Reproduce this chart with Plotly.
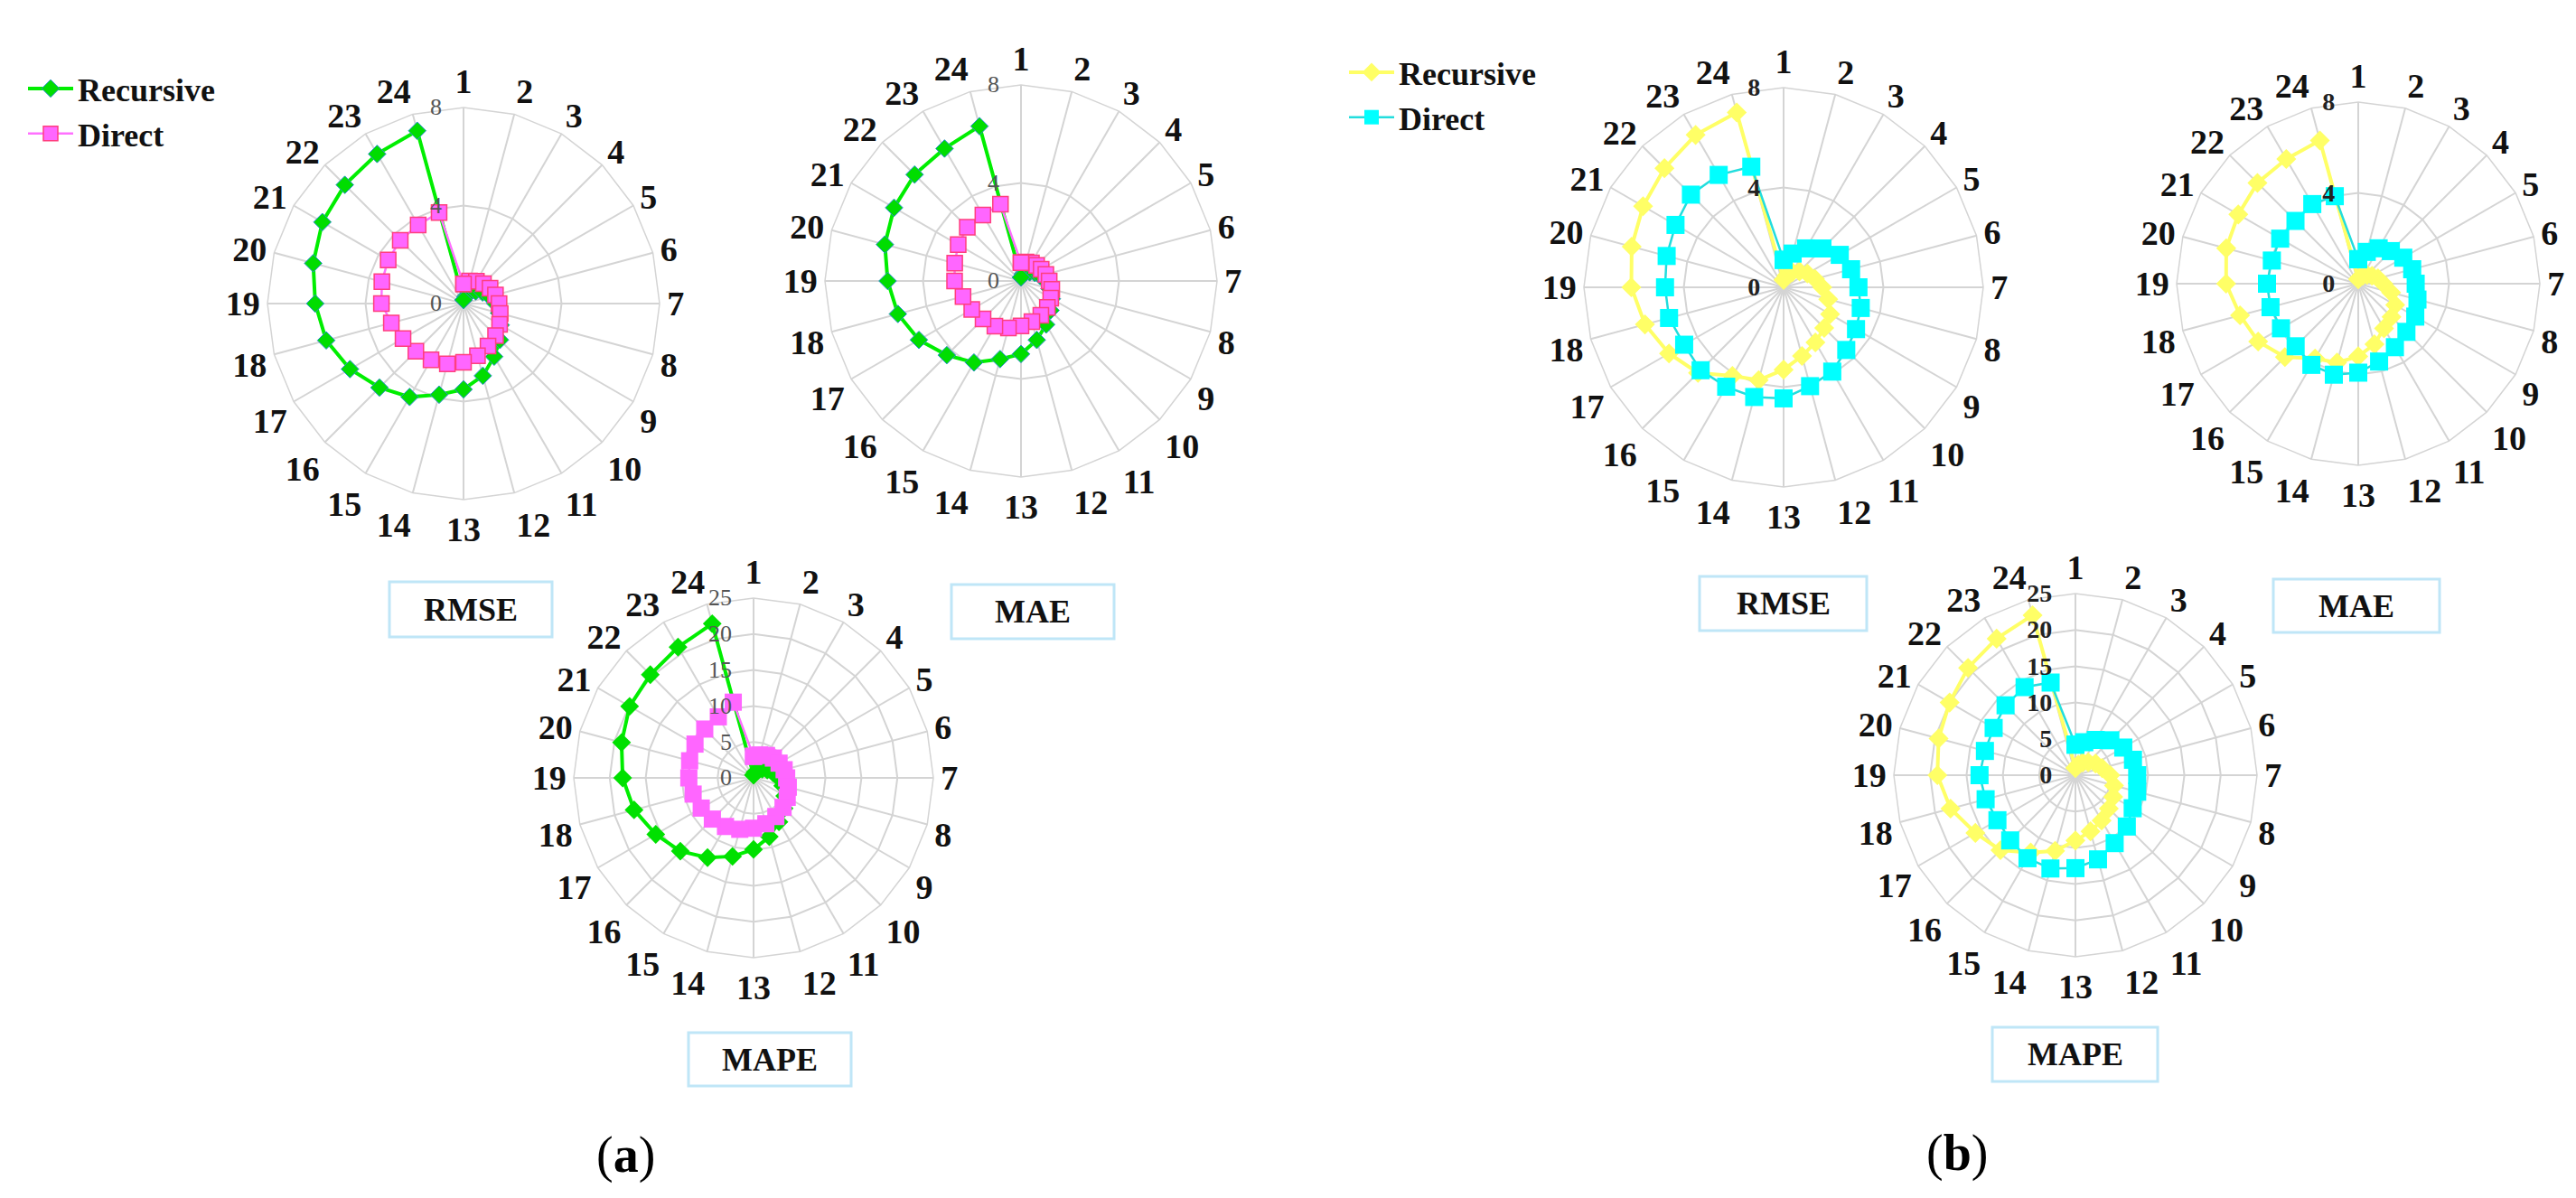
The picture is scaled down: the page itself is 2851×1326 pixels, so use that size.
import plotly.graph_objects as go

W, H = 2851, 1326

horizons = ['1', '2', '3', '4', '5', '6', '7', '8', '9', '10', '11', '12',
            '13', '14', '15', '16', '17', '18', '19', '20', '21', '22', '23', '24']

# (a) error metrics per forecast horizon
a_rmse_rec = [0.15, 0.3, 0.5, 0.7, 0.9, 1.1, 1.3, 1.5, 1.75, 2.1, 2.5, 3.05,
              3.5, 3.85, 4.4, 4.85, 5.35, 5.8, 6.05, 6.35, 6.65, 6.85, 7.05, 7.3]
a_rmse_dir = [0.8, 0.95, 1.05, 1.15, 1.25, 1.35, 1.45, 1.55, 1.7, 1.85, 2.0, 2.2,
              2.4, 2.55, 2.65, 2.75, 2.85, 3.05, 3.35, 3.45, 3.55, 3.65, 3.7, 3.85]
a_mae_rec = [0.15, 0.3, 0.4, 0.5, 0.65, 0.8, 1.0, 1.2, 1.45, 1.7, 2.05, 2.49,
             2.98, 3.3, 3.84, 4.28, 4.81, 5.2, 5.44, 5.75, 5.98, 6.14, 6.24, 6.54]
a_mae_dir = [0.75, 0.8, 0.85, 0.9, 0.95, 1.05, 1.15, 1.3, 1.4, 1.52, 1.62, 1.72,
             1.83, 1.98, 2.13, 2.19, 2.32, 2.45, 2.71, 2.8, 2.96, 3.1, 3.11, 3.24]
a_mape_rec = [0.4, 0.8, 1.2, 1.7, 2.2, 2.8, 3.5, 4.2, 5.0, 6.0, 7.06, 8.46,
              9.95, 11.3, 12.8, 14.4, 15.7, 17.2, 18.2, 19.0, 19.9, 20.3, 21.0, 22.2]
a_mape_dir = [3.0, 3.3, 3.6, 3.9, 4.1, 4.4, 4.6, 5.0, 5.4, 5.8, 6.2, 6.6,
              7.0, 7.4, 7.8, 8.1, 8.4, 8.7, 9.0, 9.2, 9.4, 9.6, 9.8, 10.9]

# (b) error metrics per forecast horizon
b_rmse_rec = [0.3, 0.5, 0.7, 0.9, 1.1, 1.3, 1.55, 1.85, 2.15, 2.3, 2.55, 2.85,
              3.3, 3.85, 4.1, 4.85, 5.3, 5.75, 6.1, 6.3, 6.5, 6.75, 7.05, 7.25]
b_rmse_dir = [1.1, 1.4, 1.8, 2.2, 2.6, 2.8, 3.0, 3.2, 3.35, 3.55, 3.9, 4.1,
              4.45, 4.55, 4.6, 4.7, 4.6, 4.75, 4.75, 4.85, 5.0, 5.25, 5.2, 5.0]
b_mae_rec = [0.2, 0.3, 0.4, 0.55, 0.7, 0.9, 1.1, 1.5, 1.88, 2.07, 2.27, 2.76,
             3.2, 3.6, 3.8, 4.57, 5.09, 5.39, 5.82, 6.02, 6.1, 6.28, 6.34, 6.53]
b_mae_dir = [1.08, 1.45, 1.8, 2.03, 2.29, 2.46, 2.53, 2.7, 2.9, 3.0, 3.23, 3.55,
             3.92, 4.15, 4.13, 3.9, 3.93, 4.0, 4.02, 3.94, 3.97, 3.91, 4.05, 3.99]
b_mape_rec = [1.0, 1.5, 2.0, 2.5, 3.2, 3.8, 4.8, 5.5, 6.0, 6.5, 7.2, 8.0,
              9.0, 10.8, 12.3, 14.6, 15.9, 17.8, 19.0, 19.5, 20.0, 20.9, 21.7, 22.8]
b_mape_dir = [4.2, 4.7, 5.6, 6.8, 7.6, 8.2, 8.5, 8.8, 9.1, 10.0, 10.8, 12.0,
              12.8, 13.3, 13.2, 12.7, 12.4, 12.8, 13.2, 12.9, 13.0, 13.6, 14.0, 13.2]

SERIF = 'Liberation Serif'
GRID = '#d4d4d4'


def px_x(v):
    return v / W


def px_y(v):
    return 1 - v / H


# centre x, centre y, radius in px; style key picks colours and marker sizes
panels = [
    dict(cx=505, cy=328, R=217, rmax=8, dtick=4, rec=a_rmse_rec, dr=a_rmse_dir, style='a', leg=True),
    dict(cx=1122, cy=303, R=217, rmax=8, dtick=4, rec=a_mae_rec, dr=a_mae_dir, style='a', leg=False),
    dict(cx=826, cy=853, R=199, rmax=25, dtick=5, rec=a_mape_rec, dr=a_mape_dir, style='a3', leg=False),
    dict(cx=1966, cy=310, R=221, rmax=8, dtick=4, rec=b_rmse_rec, dr=b_rmse_dir, style='b', leg=True),
    dict(cx=2602, cy=306, R=201, rmax=8, dtick=4, rec=b_mae_rec, dr=b_mae_dir, style='b', leg=False),
    dict(cx=2289, cy=850, R=201, rmax=25, dtick=5, rec=b_mape_rec, dr=b_mape_dir, style='b', leg=False),
]

styles = {
    'a': dict(rec_line='#00ee00', rec_fill='#00dd00', rec_mline=dict(color='#2b8fd0', width=1), rec_size=15,
              dir_line='#ff70ff', dir_fill='#ff66ff', dir_mline=dict(color='#ff3f7f', width=1.5), dir_size=17,
              legend='legend', rtick=dict(family=SERIF, size=26, color='#555555')),
    'a3': dict(rec_line='#00ee00', rec_fill='#00e000', rec_mline=dict(width=0), rec_size=16,
               dir_line='#ff70ff', dir_fill='#ff66ff', dir_mline=dict(width=0), dir_size=19,
               legend='legend', rtick=dict(family=SERIF, size=26, color='#555555')),
    'b': dict(rec_line='#ffff66', rec_fill='#ffff66', rec_mline=dict(width=0), rec_size=17,
              dir_line='#22dddd', dir_fill='#00ffff', dir_mline=dict(width=0), dir_size=20,
              legend='legend2', rtick=dict(family=SERIF, size=28, color='#222222', weight='bold')),
}

fig = go.Figure()
layout_polars = {}
theta = horizons + [horizons[0]]

for i, p in enumerate(panels):
    pid = 'polar' if i == 0 else f'polar{i + 1}'
    s = styles[p['style']]

    fig.add_trace(go.Scatterpolar(
        r=p['rec'] + [p['rec'][0]], theta=theta, mode='lines+markers',
        name='Recursive', subplot=pid, legend=s['legend'], showlegend=p['leg'],
        line=dict(color=s['rec_line'], width=4),
        marker=dict(symbol='diamond', size=s['rec_size'], color=s['rec_fill'], line=s['rec_mline']),
    ))
    fig.add_trace(go.Scatterpolar(
        r=p['dr'] + [p['dr'][0]], theta=theta, mode='lines+markers',
        name='Direct', subplot=pid, legend=s['legend'], showlegend=p['leg'],
        line=dict(color=s['dir_line'], width=2.5),
        marker=dict(symbol='square', size=s['dir_size'], color=s['dir_fill'], line=s['dir_mline']),
    ))

    layout_polars[pid] = dict(
        domain=dict(x=[px_x(p['cx'] - p['R']), px_x(p['cx'] + p['R'])],
                    y=[px_y(p['cy'] + p['R']), px_y(p['cy'] - p['R'])]),
        gridshape='linear',
        bgcolor='white',
        angularaxis=dict(
            type='category', categoryarray=horizons, rotation=90, direction='clockwise',
            showgrid=True, gridcolor=GRID, gridwidth=1.5,
            showline=True, linecolor=GRID, linewidth=1.5, ticks='',
            tickfont=dict(family=SERIF, size=38, color='#111111', weight='bold'),
        ),
        radialaxis=dict(
            range=[0, p['rmax']], tick0=0, dtick=p['dtick'], angle=90, tickangle=90,
            side='counterclockwise', showline=False, ticks='',
            ticksuffix='\u00a0\u00a0\u00a0',
            showgrid=True, gridcolor=GRID, gridwidth=1.5,
            tickfont=s['rtick'],
        ),
    )

fig.update_layout(**layout_polars)

# metric label boxes
boxes = [
    ('RMSE', 423, 636, 603, 697),
    ('MAE', 1045, 639, 1225, 699),
    ('MAPE', 754, 1135, 934, 1194),
    ('RMSE', 1873, 630, 2058, 690),
    ('MAE', 2508, 633, 2692, 692),
    ('MAPE', 2197, 1129, 2380, 1189),
]
for label, x0, y0, x1, y1 in boxes:
    fig.add_shape(type='rect', xref='paper', yref='paper',
                  x0=px_x(x0), x1=px_x(x1), y0=px_y(y1), y1=px_y(y0),
                  line=dict(color='#bfe6f7', width=3), fillcolor='white')
    fig.add_annotation(x=px_x((x0 + x1) / 2), y=px_y((y0 + y1) / 2), xref='paper', yref='paper',
                       xanchor='center', yanchor='middle', text=label, showarrow=False,
                       font=dict(family=SERIF, size=36, color='#111111', weight='bold'))

fig.add_annotation(x=px_x(684), y=px_y(1270), xref='paper', yref='paper', text='(<b>a</b>)',
                   xanchor='center', yanchor='middle', showarrow=False,
                   font=dict(family=SERIF, size=56, color='black'))
fig.add_annotation(x=px_x(2158), y=px_y(1268), xref='paper', yref='paper', text='(<b>b</b>)',
                   xanchor='center', yanchor='middle', showarrow=False,
                   font=dict(family=SERIF, size=56, color='black'))

legend_font = dict(family=SERIF, size=36, color='#111111', weight='bold')
fig.update_layout(
    width=W, height=H,
    margin=dict(l=0, r=0, t=0, b=0),
    paper_bgcolor='white',
    plot_bgcolor='white',
    legend=dict(x=px_x(18), y=px_y(60), xanchor='left', yanchor='top', font=legend_font,
                bgcolor='rgba(0,0,0,0)', itemwidth=50, tracegroupgap=0),
    legend2=dict(x=px_x(1480), y=px_y(42), xanchor='left', yanchor='top', font=legend_font,
                 bgcolor='rgba(0,0,0,0)', itemwidth=50, tracegroupgap=0),
)

fig.write_html('out.html')
